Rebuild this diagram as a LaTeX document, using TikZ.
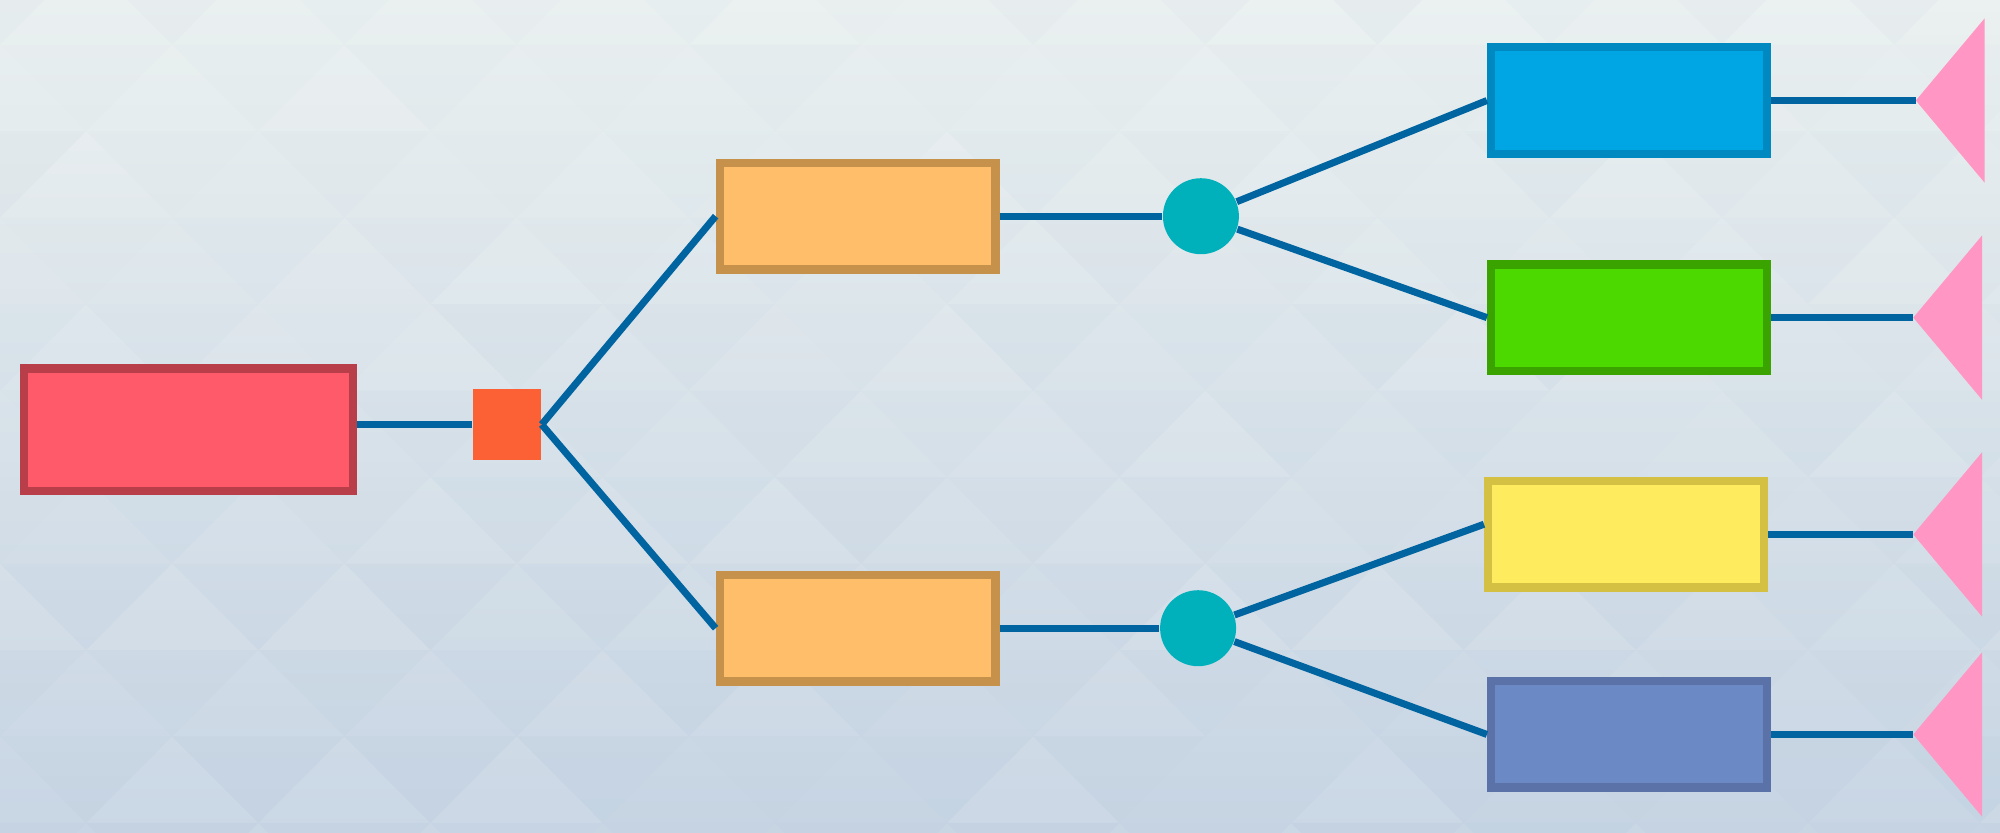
\documentclass[tikz,border=0pt]{standalone}
\usepackage{tikz}
\usetikzlibrary{calc}
\definecolor{bgTop}{RGB}{234,240,240}
\definecolor{bgBot}{RGB}{198,212,227}
\definecolor{lineBlue}{RGB}{0,100,160}
\definecolor{redFill}{RGB}{255,90,106}
\definecolor{redEdge}{RGB}{184,63,74}
\definecolor{sqOrange}{RGB}{252,97,53}
\definecolor{orFill}{RGB}{255,190,105}
\definecolor{orEdge}{RGB}{198,145,75}
\definecolor{hubTeal}{RGB}{0,177,188}
\definecolor{blueFill}{RGB}{0,166,227}
\definecolor{blueEdge}{RGB}{0,137,192}
\definecolor{greenFill}{RGB}{76,217,0}
\definecolor{greenEdge}{RGB}{59,163,0}
\definecolor{yelFill}{RGB}{255,235,94}
\definecolor{yelEdge}{RGB}{212,192,67}
\definecolor{indFill}{RGB}{107,137,196}
\definecolor{indEdge}{RGB}{90,114,168}
\definecolor{triPink}{RGB}{255,150,195}
\definecolor{polyBlue}{RGB}{165,185,212}

\begin{document}
\begin{tikzpicture}[
  x=0.012755cm, y=-0.012755cm,
  box/.style={rectangle, line width=2.4pt, minimum width=2.757cm, minimum height=1.065cm, inner sep=0pt},
  link/.style={draw=lineBlue, line width=2pt},
  hub/.style={circle, fill=hubTeal, minimum size=0.76cm, inner sep=0pt},
  tri/.style={fill=triPink}
]

% Background
\useasboundingbox (0,0) rectangle (1568,653);
\shade[top color=bgTop, bottom color=bgBot] (0,0) rectangle (1568,653);
\begin{scope}
\clip (0,0) rectangle (1568,653);
\pgfmathsetseed{11}
\foreach \j in {0,...,10} {
  \foreach \k in {-1,...,12} {
    \pgfmathsetmacro{\yt}{-32.8+\j*67.8}
    \pgfmathsetmacro{\yb}{\yt+67.8}
    \pgfmathsetmacro{\xa}{\k*135+mod(\j,2)*67.5}
    \pgfmathsetmacro{\opa}{0.10*rnd}
    \pgfmathsetmacro{\opb}{0.06*rnd}
    \fill[white, opacity=\opa] (\xa,\yb) -- (\xa+135,\yb) -- (\xa+67.5,\yt) -- cycle;
    \fill[polyBlue, opacity=\opb] (\xa+67.5,\yt) -- (\xa+202.5,\yt) -- (\xa+135,\yb) -- cycle;
  }
}
\end{scope}

% Root
\node[box, draw=redEdge, fill=redFill, minimum width=3.29cm, minimum height=1.224cm] (root) at (147.7,336.8) {};
\node[rectangle, fill=sqOrange, minimum width=0.68cm, minimum height=0.71cm, inner sep=0pt] (split) at (397.5,332.8) {};

% Middle level
\node[box, draw=orEdge, fill=orFill] (upper) at (672.4,169.5) {};
\node[box, draw=orEdge, fill=orFill] (lower) at (672.4,492.5) {};
\node[hub] (hubA) at (941.5,169.5) {};
\node[hub] (hubB) at (939.3,492.5) {};

% Leaves
\node[box, draw=blueEdge, fill=blueFill] (leafA) at (1277.1,78.8) {};
\node[box, draw=greenEdge, fill=greenFill] (leafB) at (1277.1,249) {};
\node[box, draw=yelEdge, fill=yelFill] (leafC) at (1274.8,419) {};
\node[box, draw=indEdge, fill=indFill] (leafD) at (1277.1,575.8) {};

\coordinate (endA) at (1502,78.8);
\coordinate (endB) at (1500,249);
\coordinate (endC) at (1500,419);
\coordinate (endD) at (1500,575.8);
\foreach \e in {endA,endB,endC,endD}
  \fill[tri] (\e) -- ++(54,-64.5) -- ++(0,129) -- cycle;

% Links
\draw[link] (split.west) -- (split.west -| root.east);
\draw[link] (split.east) -- (upper.west);
\draw[link] (split.east) -- (lower.west);
\draw[link] (upper.east) -- (hubA);
\draw[link] (lower.east) -- (hubB);
\draw[link] (hubA) -- (leafA.west);
\draw[link] (hubA) -- (leafB.west);
\draw[link] (hubB) -- ($(leafC.west)+(0,-8)$);
\draw[link] (hubB) -- (leafD.west);
\draw[link] (leafA.east) -- (endA);
\draw[link] (leafB.east) -- (endB);
\draw[link] (leafC.east) -- (endC);
\draw[link] (leafD.east) -- (endD);

\end{tikzpicture}
\end{document}
